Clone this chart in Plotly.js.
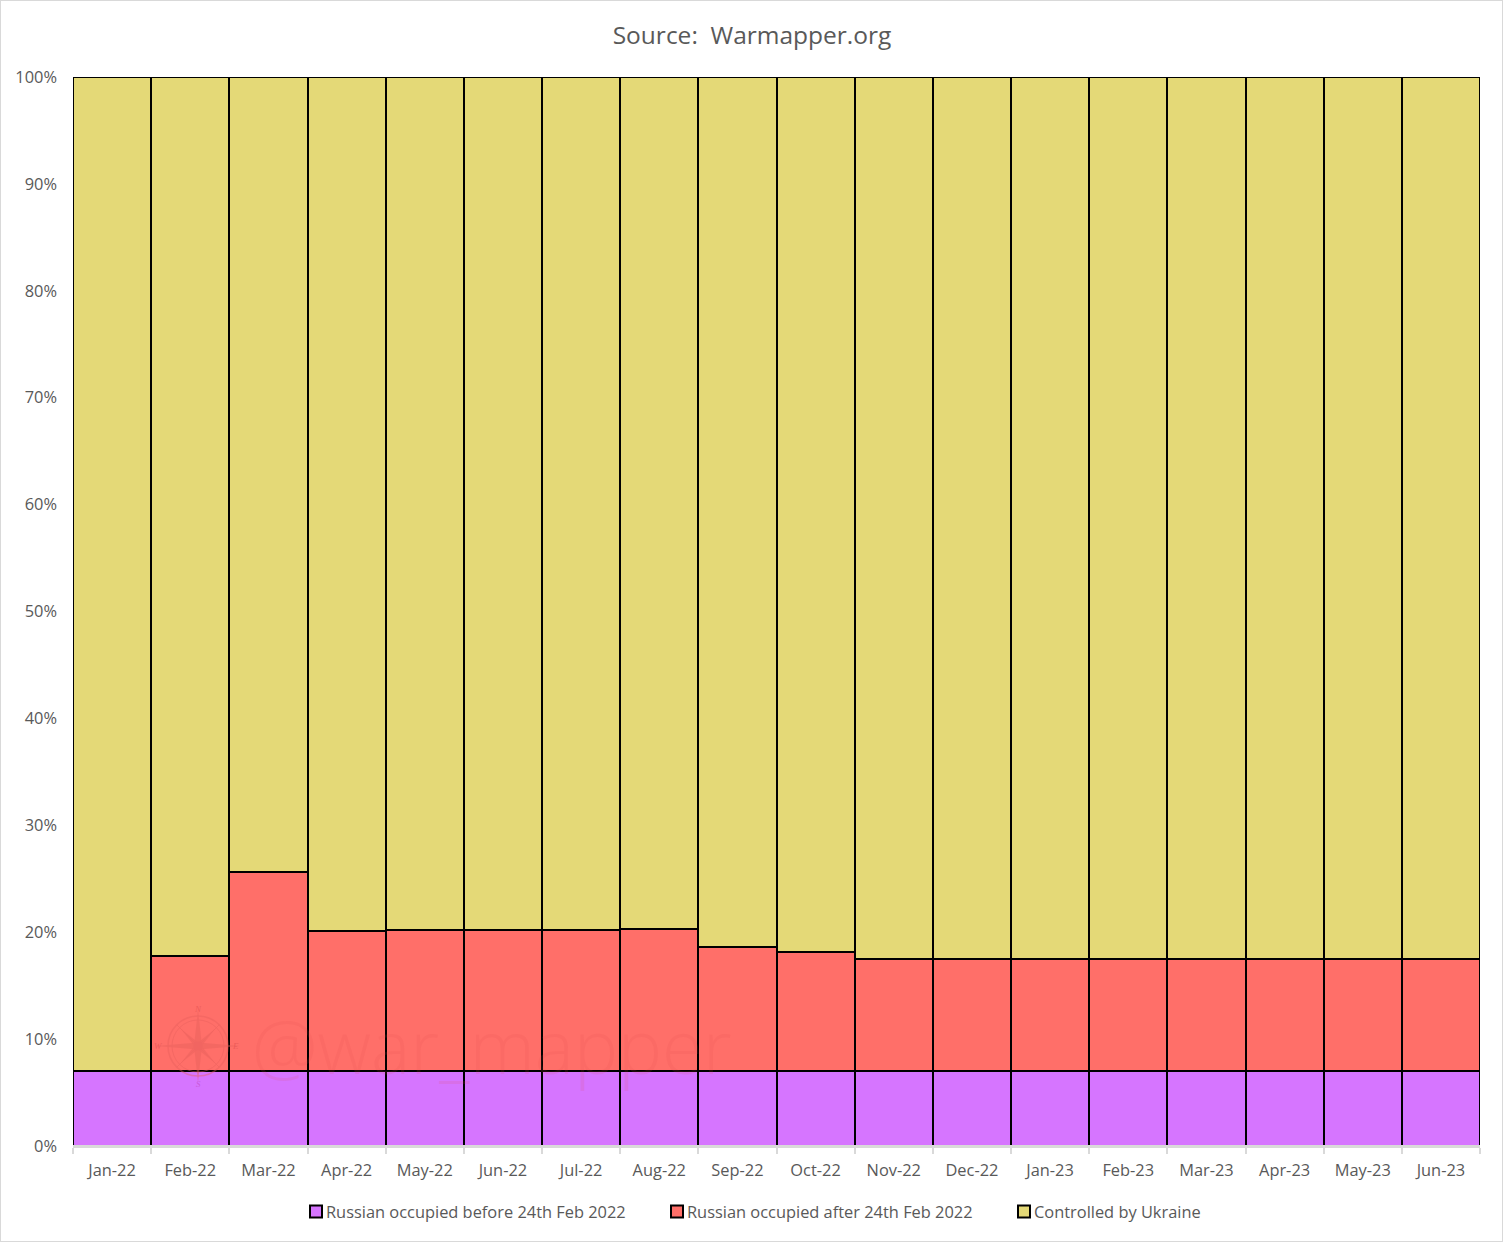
<!DOCTYPE html>
<html>
<head>
<meta charset="utf-8">
<script src="https://cdn.plot.ly/plotly-3.0.1.min.js"></script>
<style>
html,body{margin:0;padding:0;background:#fff;}
#wrap{position:relative;width:1504px;height:1243px;overflow:hidden;}
#frame{position:absolute;left:0;top:0;width:1501px;height:1240px;border:1.5px solid #d9d9d9;pointer-events:none;z-index:5;}
</style>
</head>
<body>
<div id="wrap"><div id="chart"></div><div id="frame"></div></div>
<script>
const months = ["Jan-22","Feb-22","Mar-22","Apr-22","May-22","Jun-22","Jul-22","Aug-22","Sep-22","Oct-22","Nov-22","Dec-22","Jan-23","Feb-23","Mar-23","Apr-23","May-23","Jun-23"];
const occupiedBefore = [7,7,7,7,7,7,7,7,7,7,7,7,7,7,7,7,7,7];
const occupiedAfter = [0,10.75,18.6,13.1,13.2,13.2,13.2,13.3,11.6,11.15,10.45,10.45,10.45,10.45,10.45,10.45,10.45,10.45];
const controlledUkraine = [93,82.25,74.4,79.9,79.8,79.8,79.8,79.7,81.4,81.85,82.55,82.55,82.55,82.55,82.55,82.55,82.55,82.55];
const yTicks = [0,10,20,30,40,50,60,70,80,90,100];
const yTickLabels = yTicks.map(v => v + "%");
const seriesNames = ["Russian occupied before 24th Feb 2022","Russian occupied after 24th Feb 2022","Controlled by Ukraine"];
const seriesColors = ["#d675ff","#ff6f69","#e4d977"];
const seriesValues = [occupiedBefore, occupiedAfter, controlledUkraine];

const FONT = '"Open Sans", "Noto Sans", sans-serif';
const GREY = "#595959";
const TICK_SIZE = 16.4;

const traces = seriesValues.map((vals, i) => ({
  type: "bar", x: months, y: vals, name: seriesNames[i],
  marker: {color: seriesColors[i], line: {color: "#000000", width: 2}},
  hoverinfo: "x+y+name"
}));

const rose = "data:image/svg+xml;utf8," + encodeURIComponent(
 '<svg xmlns="http://www.w3.org/2000/svg" viewBox="-50 -50 100 100">' +
 '<g fill="none" stroke="#e8605c" stroke-opacity="0.7">' +
 '<circle r="30" stroke-width="1.5"/><circle r="26" stroke-width="1"/><circle r="4" stroke-width="1.5"/>' +
 '<path d="M-21 -21L21 21M-21 21L21 -21" stroke-width="1"/></g>' +
 '<g fill="#e8605c" fill-opacity="0.75">' +
 '<path d="M0 -36L4 0L0 36L-4 0Z"/><path d="M-42 0L0 -3.5L42 0L0 3.5Z"/>' +
 '<path d="M-17 -17L2 -2L17 17L-2 2Z"/><path d="M17 -17L2 2L-17 17L-2 -2Z"/></g></svg>');

const px = x => (x - 73) / 1407;
const py = y => (1146 - y) / 1069;
const compassLetter = (t, x, y, c) => ({text: t, xref: "paper", yref: "paper", x: px(x), y: py(y), xanchor: "center", yanchor: "middle",
  showarrow: false, font: {family: '"Liberation Serif", serif', size: 9, style: "italic", color: c}});

const layout = {
  width: 1504, height: 1243, autosize: false,
  paper_bgcolor: "#ffffff", plot_bgcolor: "#ffffff",
  margin: {l: 73, r: 24, t: 77, b: 97, pad: 0},
  barmode: "stack", bargap: 0,
  font: {family: FONT, color: GREY, size: TICK_SIZE},
  title: {text: "Source:  Warmapper.org", x: 0.5, xref: "container", xanchor: "center",
          y: 1 - 35.5/1243, yref: "container", yanchor: "middle",
          font: {family: FONT, size: 24.5, color: GREY}},
  xaxis: {type: "category", tickson: "boundaries", ticks: "outside", ticklen: 6, tickwidth: 2,
          tickcolor: "#d9d9d9", linecolor: "#d9d9d9", linewidth: 2, showline: true, showgrid: false,
          ticklabelstandoff: 8, tickfont: {family: FONT, size: TICK_SIZE, color: GREY}, automargin: false},
  yaxis: {range: [0,100], tickvals: yTicks, ticktext: yTickLabels, showgrid: false, zeroline: false,
          showline: false, ticks: "", ticklabelstandoff: 15, tickfont: {family: FONT, size: TICK_SIZE, color: GREY}, automargin: false},
  legend: {orientation: "h", x: px(286), xanchor: "left", y: -0.0453, yanchor: "top",
           font: {family: FONT, size: TICK_SIZE, color: GREY}, traceorder: "normal",
           entrywidth: 309, entrywidthmode: "pixels", bgcolor: "rgba(0,0,0,0)"},
  shapes: [{type: "line", xref: "paper", yref: "y", x0: 0, x1: 1, y0: 0, y1: 0, layer: "above",
            line: {color: "#d9d9d9", width: 2}}],
  images: [{source: rose, xref: "paper", yref: "paper", x: px(198), y: py(1046), sizex: 100/1407, sizey: 100/1069,
            xanchor: "center", yanchor: "middle", layer: "above", sizing: "stretch", opacity: 0.6}],
  annotations: [
    {text: "@war_mapper", xref: "paper", yref: "paper", x: px(492), y: py(1045), xanchor: "center", yanchor: "middle",
     showarrow: false, font: {family: FONT, size: 74, weight: 300, color: "rgba(225,80,80,0.13)"}},
    compassLetter("N", 198, 1009, "rgba(225,80,80,0.6)"),
    compassLetter("S", 198, 1084, "rgba(190,70,190,0.6)"),
    compassLetter("W", 158, 1046, "rgba(225,80,80,0.6)"),
    compassLetter("E", 235, 1046, "rgba(225,80,80,0.6)")
  ]
};

Plotly.newPlot("chart", traces, layout, {displayModeBar: false, responsive: false}).then(() => {
  // Pull the legend swatches next to their labels, and give the middle entry its wider offset.
  document.querySelectorAll("#chart .legend .legendsymbols").forEach(g => g.setAttribute("transform", "translate(10,0)"));
  const entries = document.querySelectorAll("#chart .legend .traces");
  if (entries[1]) {
    const m = /translate\(([-\d.]+)[ ,]*([-\d.]*)\)/.exec(entries[1].getAttribute("transform") || "");
    if (m) entries[1].setAttribute("transform", `translate(${parseFloat(m[1]) + 7},${m[2] || 0})`);
  }
});
</script>
</body>
</html>
